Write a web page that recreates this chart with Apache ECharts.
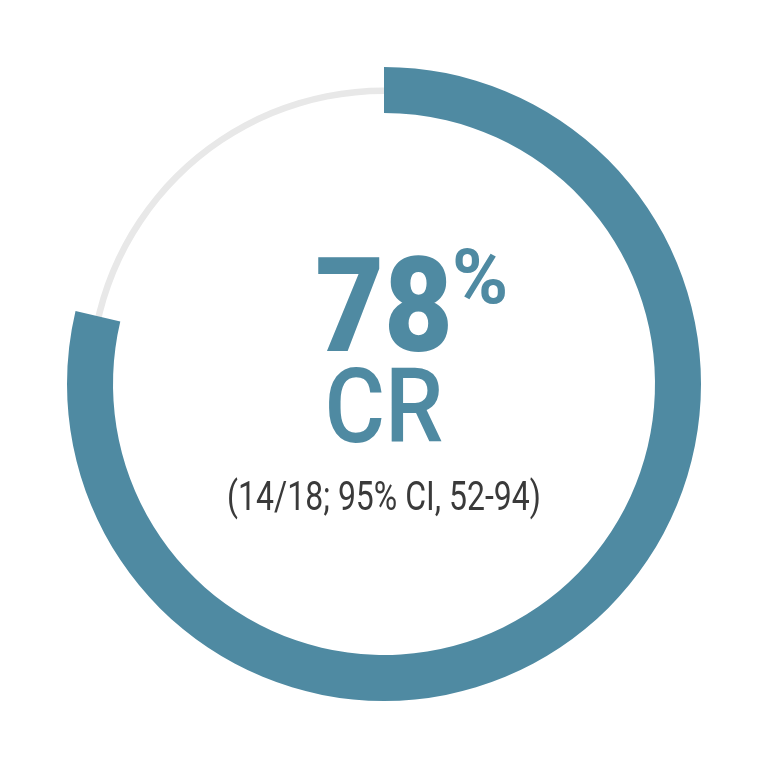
<!DOCTYPE html>
<html>
<head>
<meta charset="utf-8">
<script src="https://cdn.jsdelivr.net/npm/echarts@6/dist/echarts.min.js"></script>
<style>html,body{margin:0;padding:0;background:#fff}#c{width:768px;height:768px}</style>
</head>
<body>
<div id="c"></div>
<script>
const categories = ['CR', 'Other'];
const values = [78.7, 21.3];
const bigValue = '78';
const bigUnit = '%';
const label = 'CR';
const detail = '(14/18; 95% CI, 52-94)';

const teal = '#4f8aa2';
const chart = echarts.init(document.getElementById('c'));
chart.setOption({
  animation: false,
  series: [
    {
      type: 'pie', silent: true, center: [384, 384], radius: [290, 296.5],
      startAngle: 90, clockwise: true, label: {show: false}, labelLine: {show: false},
      data: [{name: 'track', value: 1, itemStyle: {color: '#e8e8e8'}}]
    },
    {
      type: 'pie', silent: true, center: [384, 384], radius: [271, 317],
      startAngle: 90, clockwise: true, label: {show: false}, labelLine: {show: false},
      data: categories.map((c, i) => ({
        name: c, value: values[i],
        itemStyle: {color: i === 0 ? teal : 'rgba(0,0,0,0)'}
      }))
    }
  ],
  graphic: [
    {type: 'text', x: 384, y: 318, scaleX: 0.9, style: {text: bigValue, fill: teal, fontFamily: 'Roboto', fontWeight: 900, fontSize: 132, align: 'center', verticalAlign: 'middle'}},
    {type: 'text', x: 452, y: 284, style: {text: bigUnit, fill: teal, fontFamily: 'Roboto', fontWeight: 700, fontSize: 76, align: 'left', verticalAlign: 'middle'}},
    {type: 'text', x: 384, y: 416, scaleX: 0.9, style: {text: label, fill: teal, fontFamily: 'Roboto', fontWeight: 500, fontSize: 103, align: 'center', verticalAlign: 'middle'}},
    {type: 'text', x: 384, y: 500, scaleX: 0.8, style: {text: detail, fill: '#3a3a3a', fontFamily: 'Roboto', fontWeight: 400, fontSize: 40, align: 'center', verticalAlign: 'middle'}}
  ]
});
</script>
</body>
</html>
